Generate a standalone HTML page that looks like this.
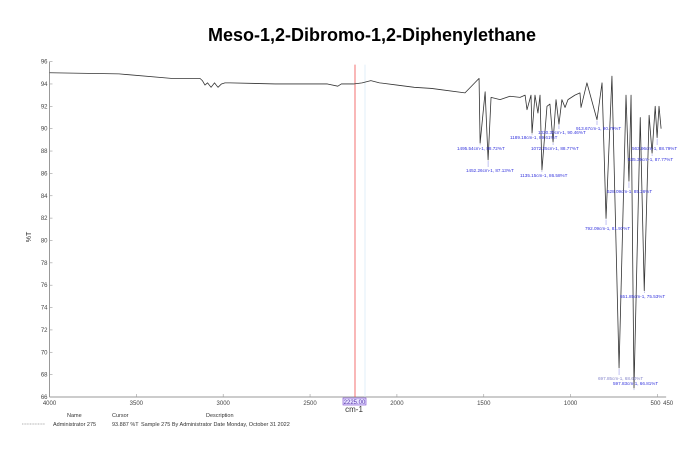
<!DOCTYPE html>
<html><head><meta charset="utf-8">
<style>
body{margin:0;background:#fff;width:700px;height:456px;overflow:hidden;font-family:"Liberation Sans",sans-serif}
svg text{font-family:"Liberation Sans",sans-serif}
</style></head>
<body>
<svg id="chart" width="700" height="456" viewBox="0 0 700 456" xmlns="http://www.w3.org/2000/svg">
<text x="372" y="41" text-anchor="middle" font-size="18" font-weight="bold" fill="#000">Meso-1,2-Dibromo-1,2-Diphenylethane</text>
<text x="0" y="0" transform="translate(31,237) rotate(-90)" text-anchor="middle" font-size="7" fill="#333">%T</text>
<text x="354" y="412" text-anchor="middle" font-size="8" fill="#333">cm-1</text>
<g font-size="5.5" fill="#333">
<text x="67" y="417">Name</text>
<text x="112" y="417">Cursor</text>
<text x="206" y="417">Description</text>
<line x1="22" y1="424" x2="45" y2="424" stroke="#666" stroke-width="0.6" stroke-dasharray="1,0.6"/>
<text x="53" y="426">Administrator 275</text>
<text x="112" y="426">93.887 %T</text>
<text x="141" y="426">Sample 275 By Administrator Date Monday, October 31 2022</text>
</g>
<g id="plot"></g>
</svg>
<script>
const wavenumbers=[4000,3600,3300,3134,3120,3105,3090,3070,3050,3030,3010,2990,2960,2700,2400,2340,2320,2250,2200,2150,2100,2000,1900,1800,1752,1608,1527,1521,1492,1475,1458,1406,1349,1291,1262,1251,1228,1222,1205,1188,1176,1165,1136,1119,1101,1084,1067,1050,1032,1015,975,946,940,906,848,819,796,762,721,681,664,652,635,599,576,548,531,513,502,491,479];
const transmittance=[95.0,94.9,94.5,94.5,94.3,93.9,94.1,93.7,94.1,93.7,94.0,94.1,94.1,94.0,94.0,93.8,94.0,94.0,94.1,94.3,94.1,93.9,93.7,93.6,93.5,93.2,94.5,88.7,93.3,87.2,92.8,92.6,92.9,92.8,93.0,91.7,93.0,89.6,93.0,91.4,93.0,86.3,92.0,92.2,88.8,92.6,90.4,92.6,91.9,92.6,93.0,93.2,91.9,94.1,90.8,94.1,81.97,94.7,68.6,93.0,85.3,93.0,66.8,91.0,75.5,91.2,87.8,92.0,89.2,92.0,90.0];
const yTicks=[96,94,92,90,88,86,84,82,80,78,76,74,72,70,68,66];
const xTicks=[4000,3500,3000,2500,2000,1500,1000,500];
const peakLabels=["1495.54cm-1, 88.72%T","1452.26cm-1, 87.13%T","1189.18cm-1, 89.61%T","1030.30cm-1, 90.46%T","1072.25cm-1, 88.77%T","1135.15cm-1, 86.58%T","913.67cm-1, 90.79%T","628.09cm-1, 85.26%T","792.09cm-1, 81.97%T","563.96cm-1, 88.79%T","535.39cm-1, 87.77%T","551.85cm-1, 75.53%T","697.85cm-1, 68.60%T","597.83cm-1, 66.81%T"];
const peakAt=[1521,1475,1222,1067,1101,1165,848,664,796,502,531,576,721,635];
const peakT=[88.7,87.2,89.6,90.4,88.8,86.3,90.8,85.3,81.97,89.2,87.8,75.5,68.6,66.8];
const labelX=[457,466,510,538,531,520,576,607,585,632,628,620,598,613];
const labelY=[150,172,139,134,150,177,130,193,230,150,161,298,380,385];

const X0=49.5,XS=0.1737,YTOP=61.6,YS=11.18,YBOT=397;
const xs=v=>X0+(4000-v)*XS;
const ys=t=>YTOP+(96-t)*YS;
const NS="http://www.w3.org/2000/svg";
const plot=document.getElementById('plot');
function mk(tag,attrs,parent){const e=document.createElementNS(NS,tag);for(const k in attrs)e.setAttribute(k,attrs[k]);(parent||plot).appendChild(e);return e;}

let ax=mk('line',{x1:X0,y1:YTOP,x2:X0,y2:YBOT,stroke:'#999','stroke-width':1});


let bx=mk('line',{x1:X0,y1:YBOT,x2:xs(450),y2:YBOT,stroke:'#999','stroke-width':1});



yTicks.forEach(t=>{
  const y=ys(t);
  mk('line',{x1:X0,y1:y,x2:X0+3,y2:y,stroke:'#999','stroke-width':0.6});
  const tx=mk('text',{x:X0-2,y:y+2,'text-anchor':'end','font-size':6,fill:'#444'});
  tx.textContent=t;
  
  
});
xTicks.forEach(v=>{
  const x=xs(v);
  mk('line',{x1:x,y1:YBOT,x2:x,y2:YBOT-3,stroke:'#999','stroke-width':0.6});
  const tx=mk('text',{x:v===500?x-2:x,y:YBOT+8,'text-anchor':'middle','font-size':6,fill:'#444'});
  tx.textContent=v;
  
  
});
const t450=mk('text',{x:xs(450)+2,y:YBOT+8,'text-anchor':'middle','font-size':6,fill:'#444'});
t450.textContent='450';



const cur=mk('line',{x1:355,y1:YTOP+3,x2:355,y2:YBOT,stroke:'#e33','stroke-width':0.7});


const cur2=mk('line',{x1:365,y1:YTOP+3,x2:365,y2:YBOT,stroke:'#d6e8f5','stroke-width':0.7});


const cb=mk('rect',{x:343,y:398,width:23,height:7,fill:'#e6e0ff',stroke:'#7744cc','stroke-width':0.6});


const ct=mk('text',{x:354.5,y:404,'text-anchor':'middle','font-size':6,fill:'#5533aa'});
ct.textContent='2225.00';



const d=wavenumbers.map((v,i)=>(i?'L':'M')+xs(v).toFixed(2)+','+ys(transmittance[i]).toFixed(2)).join(' ');
const sp=mk('path',{d:d,fill:'none',stroke:'#333','stroke-width':0.8,'stroke-linejoin':'round'});



peakLabels.forEach((s,i)=>{
  const px=xs(peakAt[i]),py=ys(peakT[i]);
  const ly=labelY[i];
  const l=mk('line',{x1:px,y1:py+1,x2:px,y2:Math.max(py+2,ly-5),stroke:'#6666dd','stroke-width':0.4});
  
  
  const tx=mk('text',{x:labelX[i],y:ly,'font-size':4.6,fill:i===12?'#8888cc':'#3333dd'});
  tx.textContent=s;
  
  
});
</script>
</body></html>
